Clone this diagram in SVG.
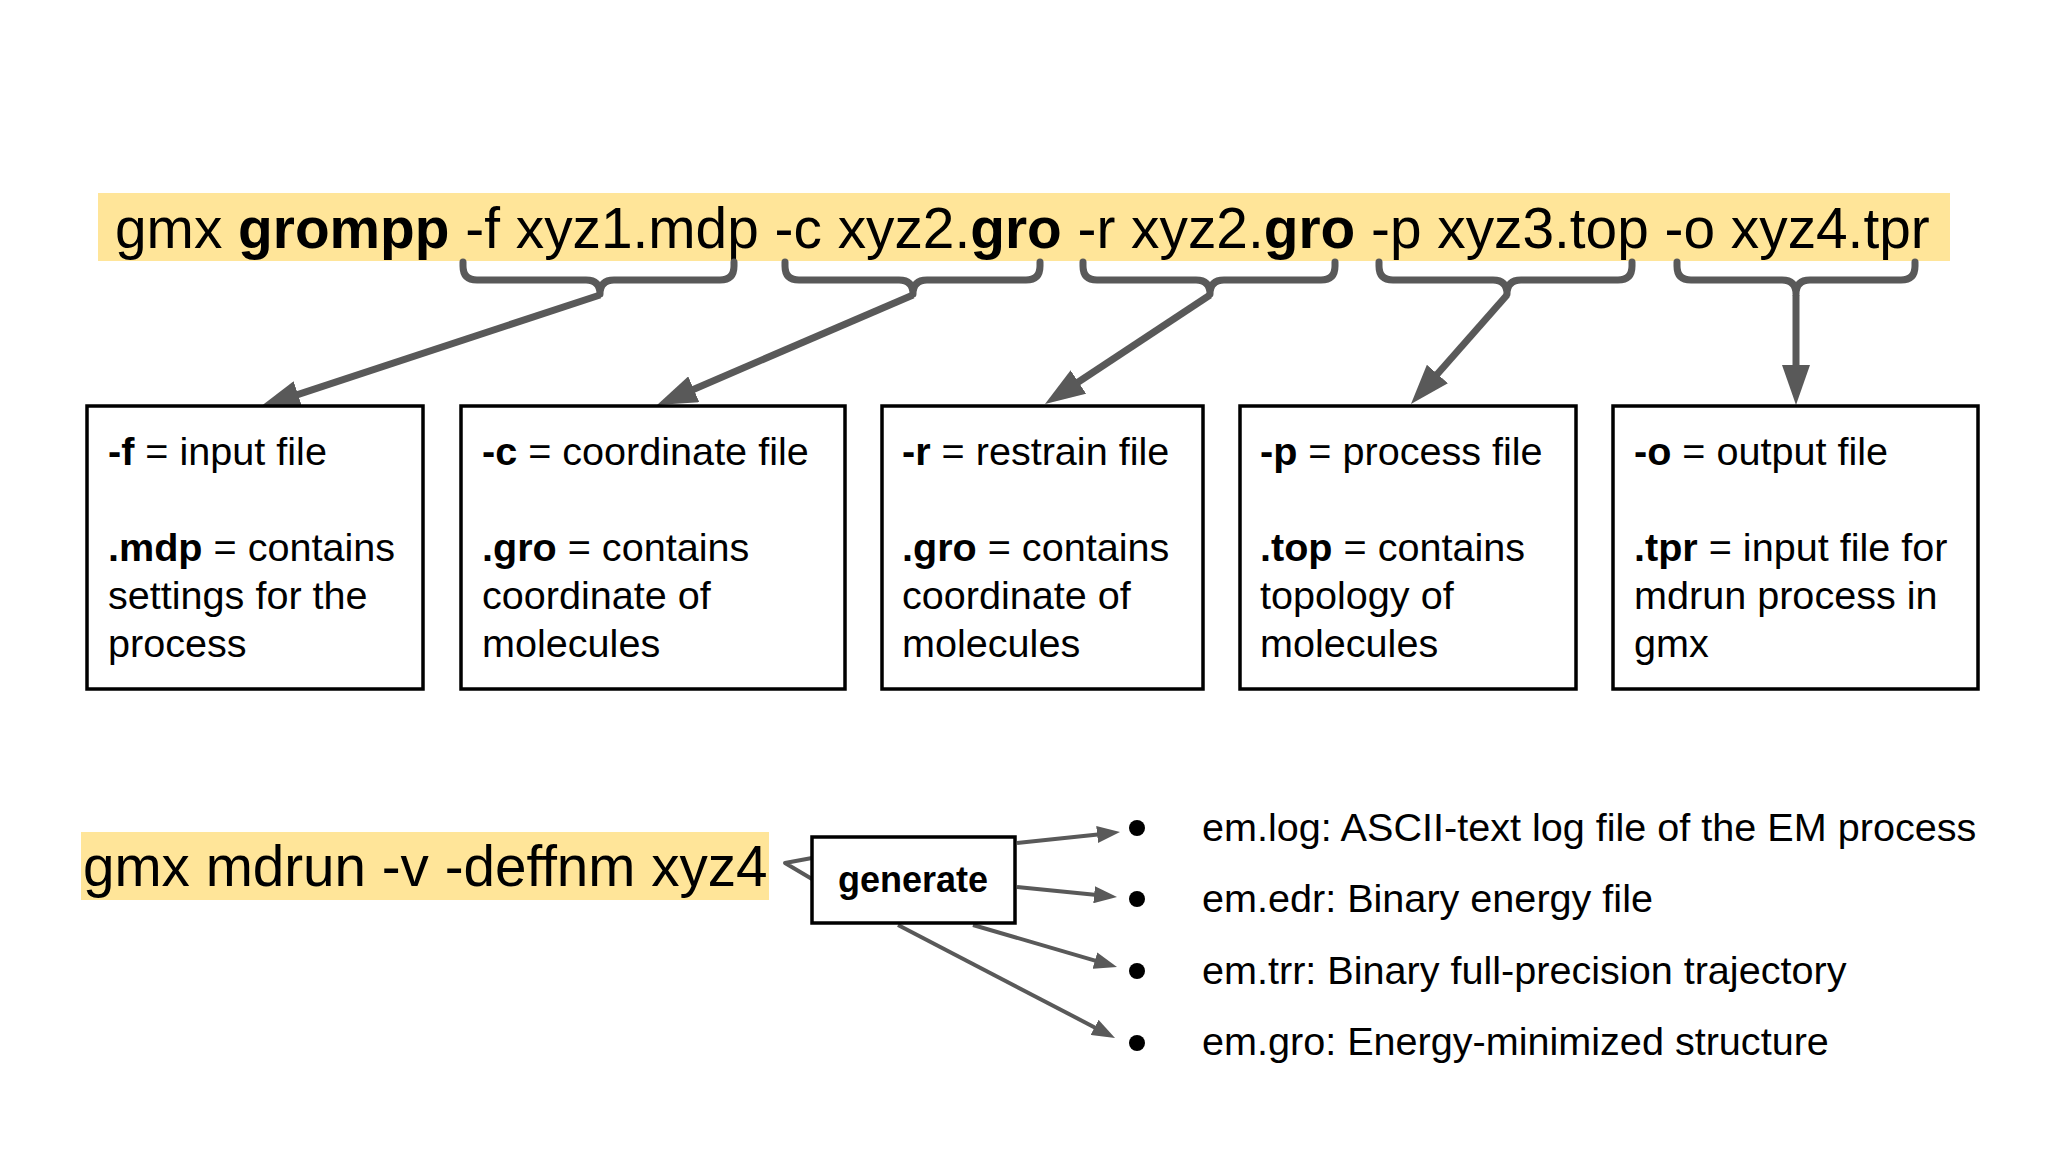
<svg xmlns="http://www.w3.org/2000/svg" width="2048" height="1152" viewBox="0 0 2048 1152">
<defs>
<style>
text{font-family:"Liberation Sans",Arial,sans-serif;fill:#000}
.b{font-weight:bold}
.hl{fill:#ffe599}
.box{fill:#fff;stroke:#000;stroke-width:3.5}
.brace{fill:none;stroke:#595959;stroke-width:7;stroke-linejoin:round;stroke-linecap:round}
.arr{fill:none;stroke:#595959;stroke-width:7;marker-end:url(#ah)}
.arr2{fill:none;stroke:#595959;stroke-width:4;marker-end:url(#ah2)}
.t40{font-size:39.6px}
</style>
<marker id="ah" viewBox="0 0 40 28" refX="10" refY="14" markerWidth="40" markerHeight="28" markerUnits="userSpaceOnUse" orient="auto"><path d="M0,0 L40,14 L0,28 z" fill="#595959"/></marker>
<marker id="ah2" viewBox="0 0 23 17" refX="5.5" refY="8.5" markerWidth="23" markerHeight="17" markerUnits="userSpaceOnUse" orient="auto"><path d="M0,0 L23,8.5 L0,17 z" fill="#595959"/></marker>
</defs>
<rect width="2048" height="1152" fill="#fff"/>

<g id="cmd-grompp">
<rect class="hl" x="98" y="193" width="1852" height="68"/>
<text x="115" y="248" font-size="56.8" xml:space="preserve">gmx <tspan class="b">grompp</tspan> -f xyz1.mdp -c xyz2.<tspan class="b">gro</tspan> -r xyz2.<tspan class="b">gro</tspan> -p xyz3.top -o xyz4.tpr</text>
</g>

<g id="connectors">
<path class="brace" d="M463,262 L463,266 Q463,280 477,280 L586,280 Q600,280 600,294 Q600,280 614,280 L720,280 Q734,280 734,266 L734,262"/>
<path class="brace" d="M785,262 L785,266 Q785,280 799,280 L899,280 Q913,280 913,294 Q913,280 927,280 L1026,280 Q1040,280 1040,266 L1040,262"/>
<path class="brace" d="M1083,262 L1083,266 Q1083,280 1097,280 L1196,280 Q1210,280 1210,294 Q1210,280 1224,280 L1321,280 Q1335,280 1335,266 L1335,262"/>
<path class="brace" d="M1379,262 L1379,266 Q1379,280 1393,280 L1493,280 Q1507,280 1507,294 Q1507,280 1521,280 L1618,280 Q1632,280 1632,266 L1632,262"/>
<path class="brace" d="M1677,262 L1677,266 Q1677,280 1691,280 L1782,280 Q1796,280 1796,294 Q1796,280 1810,280 L1901,280 Q1915,280 1915,266 L1915,262"/>
<path class="arr" d="M600,295 L288.5,397.6"/>
<path class="arr" d="M913,295 L684.6,393.2"/>
<path class="arr" d="M1210,295 L1070,387.5"/>
<path class="arr" d="M1507,295 L1430.8,381.5"/>
<path class="arr" d="M1796,295 L1796,375"/>
<polyline points="812,858 785,863 812,879" fill="none" stroke="#595959" stroke-width="4" stroke-linejoin="round"/>
<path class="arr2" d="M1017,843 L1102.6,833.9"/>
<path class="arr2" d="M1017,887 L1099.6,895.3"/>
<path class="arr2" d="M973,925 L1100.2,962.1"/>
<path class="arr2" d="M898,925 L1099.5,1029.9"/>
</g>

<g id="box-f">
<rect class="box" x="87" y="406" width="336" height="283"/>
<text class="t40" x="108" y="465"><tspan class="b">-f</tspan> = input file</text>
<text class="t40" x="108" y="561"><tspan class="b">.mdp</tspan> = contains</text>
<text class="t40" x="108" y="609">settings for the</text>
<text class="t40" x="108" y="657">process</text>
</g>

<g id="box-c">
<rect class="box" x="461" y="406" width="384" height="283"/>
<text class="t40" x="482" y="465"><tspan class="b">-c</tspan> = coordinate file</text>
<text class="t40" x="482" y="561"><tspan class="b">.gro</tspan> = contains</text>
<text class="t40" x="482" y="609">coordinate of</text>
<text class="t40" x="482" y="657">molecules</text>
</g>

<g id="box-r">
<rect class="box" x="882" y="406" width="321" height="283"/>
<text class="t40" x="902" y="465"><tspan class="b">-r</tspan> = restrain file</text>
<text class="t40" x="902" y="561"><tspan class="b">.gro</tspan> = contains</text>
<text class="t40" x="902" y="609">coordinate of</text>
<text class="t40" x="902" y="657">molecules</text>
</g>

<g id="box-p">
<rect class="box" x="1240" y="406" width="336" height="283"/>
<text class="t40" x="1260" y="465"><tspan class="b">-p</tspan> = process file</text>
<text class="t40" x="1260" y="561"><tspan class="b">.top</tspan> = contains</text>
<text class="t40" x="1260" y="609">topology of</text>
<text class="t40" x="1260" y="657">molecules</text>
</g>

<g id="box-o">
<rect class="box" x="1613" y="406" width="365" height="283"/>
<text class="t40" x="1634" y="465"><tspan class="b">-o</tspan> = output file</text>
<text class="t40" x="1634" y="561"><tspan class="b">.tpr</tspan> = input file for</text>
<text class="t40" x="1634" y="609">mdrun process in</text>
<text class="t40" x="1634" y="657">gmx</text>
</g>

<g id="cmd-mdrun">
<rect class="hl" x="81" y="832" width="688" height="68"/>
<text x="83" y="886" font-size="56.6">gmx mdrun -v -deffnm xyz4</text>
</g>

<g id="generate">
<rect class="box" x="812" y="837" width="203" height="86"/>
<text class="b" x="913" y="892" font-size="36" text-anchor="middle">generate</text>
</g>

<g id="outputs">
<circle cx="1137" cy="828" r="8"/>
<circle cx="1137" cy="899" r="8"/>
<circle cx="1137" cy="971" r="8"/>
<circle cx="1137" cy="1043" r="8"/>
<text class="t40" x="1202" y="841">em.log: ASCII-text log file of the EM process</text>
<text class="t40" x="1202" y="912">em.edr: Binary energy file</text>
<text class="t40" x="1202" y="984">em.trr: Binary full-precision trajectory</text>
<text class="t40" x="1202" y="1055">em.gro: Energy-minimized structure</text>
</g>
</svg>
